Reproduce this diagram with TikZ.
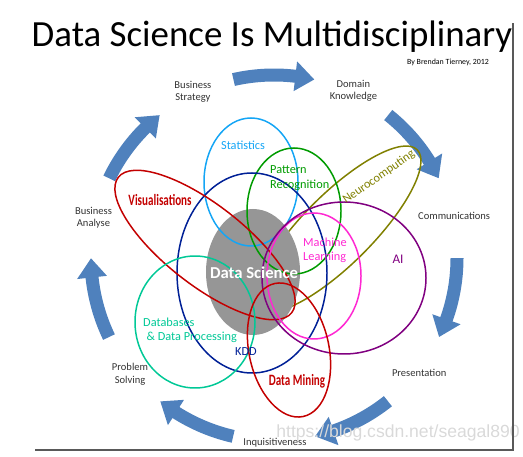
\documentclass[tikz,border=0pt]{standalone}
\usepackage{fontspec}
\setmainfont{Carlito}
\newfontfamily\markfont{Liberation Sans}
\definecolor{arrowblue}{RGB}{79,129,189}
\definecolor{statblue}{RGB}{20,165,245}
\definecolor{patgreen}{RGB}{0,155,0}
\definecolor{kddblue}{RGB}{0,32,150}
\definecolor{visred}{RGB}{195,0,0}
\definecolor{neuroolive}{RGB}{128,128,0}
\definecolor{mlpink}{RGB}{255,40,210}
\definecolor{aipurple}{RGB}{128,0,128}
\definecolor{dbteal}{RGB}{0,200,150}
\definecolor{dsgray}{RGB}{150,150,150}
\newcommand{\pts}[2]{\fontsize{#1}{#2}\selectfont}
\newcommand{\narrowbold}[1]{\scalebox{0.7}[1]{\bfseries #1}}
\begin{document}
\begin{tikzpicture}[x=0.02cm, y=0.02cm,
    venn/.style={line width=0.85pt},
    cyclelabel/.style={align=center, text=black!80, font=\pts{6}{7.2}},
    vennlabel/.style={align=left, font=\pts{7}{8.2}},
    cyclearrow/.style={fill=arrowblue}]
  \useasboundingbox (0,0) rectangle (523,456);
  % title and author
  \node[anchor=base] (title) at (272,409) {\pts{21}{25}Data Science Is Multidisciplinary};
  \node[anchor=base, font=\pts{4.5}{5.4}] (author) at (448,391) {By Brendan Tierney, 2012};
  % cycle round the edge
  \begin{scope}[shift={(274,198)}]
    \foreach \ang/\txt/\nm in {116/{Business\\Strategy}/strategy,
        64.57/{Domain\\Knowledge}/domain,
        13.14/{Communications}/comms,
        -38.3/{Presentation}/present,
        -89.7/{Inquisitiveness}/inquis,
        -141.1/{Problem\\Solving}/problem,
        -192.6/{Business\\Analyse}/analyse}
      \node[cyclelabel] (\nm) at (\ang:185) {\txt};
    \foreach \a in {90.3, 38.87, -12.56, -64, -115.4, -166.9, -218.3}
      \fill[cyclearrow] (\a+12.5:189.5) arc[start angle=\a+12.5, end angle=\a-7, radius=189.5]
        -- (\a-7:198) -- (\a-13:183) -- (\a-7:168) -- (\a-7:176.5)
        arc[start angle=\a-7, end angle=\a+12.5, radius=176.5] -- cycle;
  \end{scope}
  % venn shapes (neurocomputing sits under the grey core)
  \draw[venn, neuroolive, rotate around={45:(338,227)}] (338,227) ellipse [x radius=112, y radius=35];
  \fill[dsgray] (253,184) ellipse [x radius=47, y radius=63];
  \draw[venn, statblue] (251,274) ellipse [x radius=47, y radius=64];
  \draw[venn, patgreen] (294,245) ellipse [x radius=47, y radius=63];
  \draw[venn, kddblue] (252,183) ellipse [x radius=75, y radius=100];
  \draw[venn, visred, rotate around={-38:(205,211)}] (205,211) ellipse [x radius=110, y radius=40];
  \draw[venn, mlpink] (314,180) ellipse [x radius=47, y radius=63];
  \draw[venn, aipurple] (344,178) ellipse [x radius=82, y radius=76];
  \draw[venn, dbteal] (195,134) ellipse [x radius=60, y radius=66];
  \draw[venn, visred, rotate around={12:(289,106)}] (289,106) ellipse [x radius=40, y radius=68];
  % venn labels
  \node[vennlabel, text=statblue] (stats) at (243,311) {Statistics};
  \node[vennlabel, text=patgreen, anchor=west] (pattern) at (264,278) {Pattern\\Recognition};
  \node[vennlabel, text=kddblue] (kdd) at (246,104) {KDD};
  \node[text=visred] (visual) at (160,256) {\pts{9}{10}\narrowbold{Visualisations}};
  \node[vennlabel, text=neuroolive, rotate=35] (neuro) at (379,279) {Neurocomputing};
  \node[vennlabel, text=mlpink, anchor=west] (ml) at (297,206) {Machine\\Learning};
  \node[vennlabel, text=aipurple, font=\pts{7.5}{9}] (ai) at (398,197) {AI};
  \node[vennlabel, text=dbteal, anchor=west] (db) at (137,126) {Databases\\\hspace*{2pt}\& Data Processing};
  \node[text=visred] (mining) at (297,75) {\pts{9}{10}\narrowbold{Data Mining}};
  \node[text=white] (ds) at (254,183) {\pts{9.5}{11}\bfseries Data Science};
  % watermark and frame
  \node[text=black!15, font=\markfont\pts{10}{12}] (mark) at (398,23) {https://blog.csdn.net/seagal890};
  \draw[black!65, line width=1.1pt] (35,6) -- (513,6) -- (513,433);
\end{tikzpicture}
\end{document}
